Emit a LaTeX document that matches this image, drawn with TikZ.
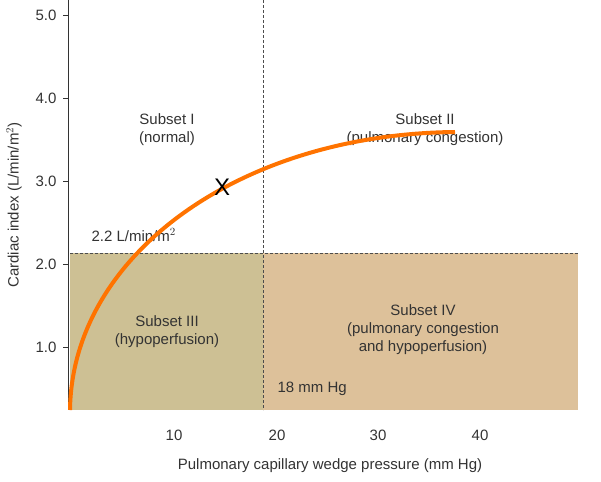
\documentclass[tikz,border=0pt]{standalone}
\usepackage{fontspec}
\setmainfont{Liberation Sans}
\begin{document}
\begin{tikzpicture}[x=1pt,y=-1pt,
  lbl/.style={text=black!80,font=\fontsize{15}{18}\selectfont,align=center},
  dsh/.style={densely dashed,black!70,line width=0.7pt}]
\useasboundingbox (0,0) rectangle (601,481);
\fill[fill={rgb,255:red,205;green,192;blue,148}] (70,253) rectangle (263,410);
\fill[fill={rgb,255:red,221;green,193;blue,154}] (263,253) rectangle (578,410);
\draw[dsh] (263,0) -- (263,410);
\draw[dsh] (70,253) -- (578,253);
\draw[black!80,line width=0.8pt] (68,0) -- (68,410);
\foreach \v/\yy in {5.0/15,4.0/98,3.0/181,2.0/264,1.0/347}{
  \node[lbl,anchor=east] (t\yy) at (60,\yy) {\v};
  \draw[black!80] (63,\yy) -- (68,\yy);}
\foreach \v/\xx in {10/174,20/277,30/378,40/480}{
  \node[lbl,anchor=north] (x\xx) at (\xx,426) {\v};}
\node[lbl,rotate=90] (yl) at (14,205) {Cardiac index (L/min/m$^2$)};
\node[lbl] (xl) at (330,466) {Pulmonary capillary wedge pressure (mm Hg)};
\node[lbl] (s1) at (167,130) {Subset I\\(normal)};
\node[lbl] (s2) at (425,130) {Subset II\\(pulmonary congestion)};
\node[lbl] (s3) at (167,332) {Subset III\\(hypoperfusion)};
\node[lbl] (s4) at (423,330) {Subset IV\\(pulmonary congestion\\and hypoperfusion)};
\node[lbl,anchor=west] (l22) at (88,235) {2.2 L/min/m$^2$};
\node[lbl,anchor=west] (l18) at (274,389) {18 mm Hg};
\draw[orange!90!red,line width=4pt] (70,410) .. controls (72,255) and (240,134) .. (455,132);
\node[font=\fontsize{24}{24}\selectfont] (X) at (222,187) {X};
\end{tikzpicture}
\end{document}
